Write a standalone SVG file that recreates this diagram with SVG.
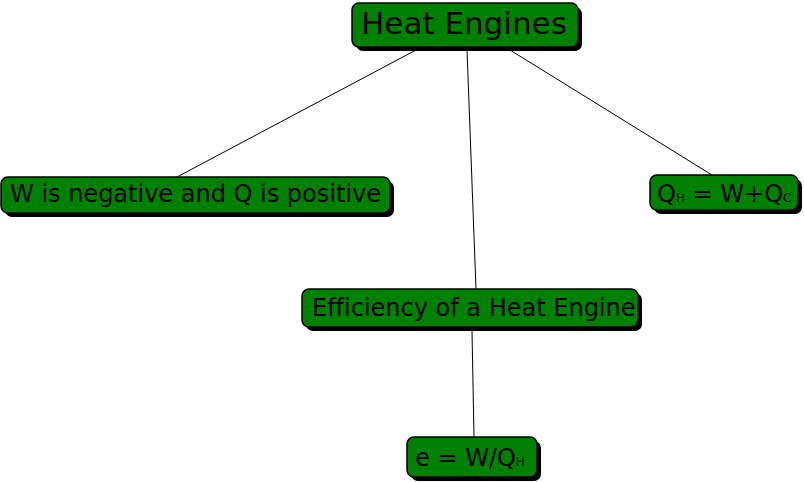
<svg xmlns="http://www.w3.org/2000/svg" width="804" height="482" viewBox="0 0 804 482">
<style>
.shadow{fill:#000}
.box{fill:#008000;stroke:#000;stroke-width:1.5}
.t{font-family:"DejaVu Sans",Verdana,sans-serif;font-size:24px;fill:#000;font-variant-ligatures:none}
.sub{font-size:12px}
.c line{stroke:#000;stroke-width:1}
</style>
<rect width="804" height="482" fill="#fff"/>
<g class="c" id="connectors">
<line x1="416" y1="50" x2="177" y2="177"/>
<line x1="467" y1="50" x2="476" y2="289"/>
<line x1="510" y1="50" x2="712" y2="175"/>
<line x1="472" y1="331" x2="474" y2="437"/>
</g>
<g id="heat-engines">
<rect class="shadow" x="356" y="7" width="226" height="44" rx="7"/>
<rect class="box" x="352" y="3" width="226" height="44" rx="7"/>
<text class="t" x="361" y="34" style="font-size:31px">Heat Engines</text>
</g>
<g id="w-negative">
<rect class="shadow" x="5" y="181" width="389" height="36" rx="7"/>
<rect class="box" x="1" y="177" width="389" height="36" rx="7"/>
<text class="t" x="10" y="202">W is negative and Q is positive</text>
</g>
<g id="qh">
<rect class="shadow" x="654" y="179" width="148" height="35" rx="7"/>
<rect class="box" x="650" y="175" width="148" height="35" rx="7"/>
<text class="t" x="657" y="202">Q<tspan class="sub">H</tspan> = W+Q<tspan class="sub">C</tspan></text>
</g>
<g id="efficiency">
<rect class="shadow" x="306" y="293" width="336" height="38" rx="7"/>
<rect class="box" x="302" y="289" width="336" height="38" rx="7"/>
<text class="t" x="312" y="316">Efficiency of a Heat Engine</text>
</g>
<g id="e-formula">
<rect class="shadow" x="411" y="441" width="130" height="40" rx="7"/>
<rect class="box" x="407" y="437" width="130" height="40" rx="7"/>
<text class="t" x="415" y="466">e = W/Q<tspan class="sub">H</tspan></text>
</g>
</svg>
